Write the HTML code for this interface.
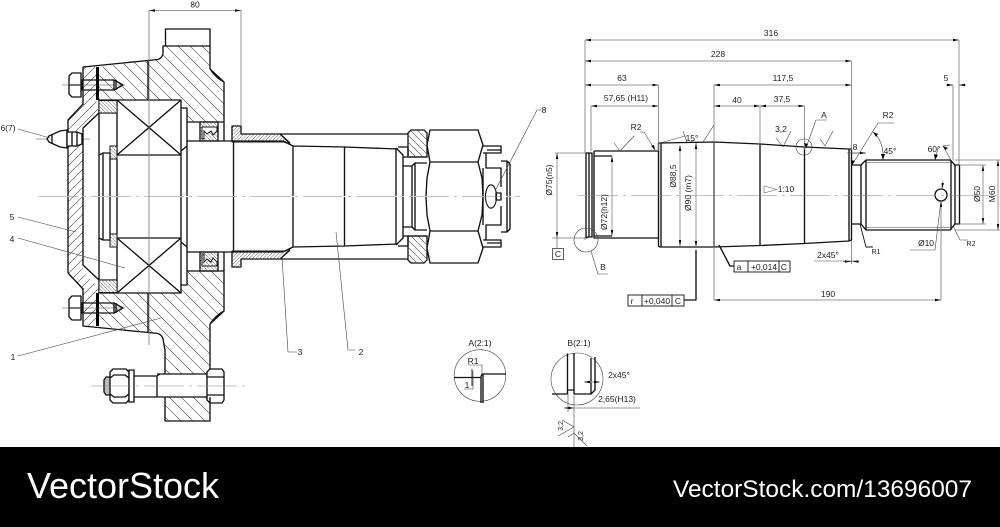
<!DOCTYPE html>
<html><head><meta charset="utf-8"><title>Engineering drawing</title>
<style>
html,body{margin:0;padding:0;background:#fff;width:1000px;height:527px;overflow:hidden}
svg{display:block}
text{font-family:"Liberation Sans",sans-serif;font-size:8.5px;fill:#222;text-anchor:middle}
.m{fill:none;stroke:#111;stroke-width:1.35;stroke-linejoin:round}
.t{fill:none;stroke:#444;stroke-width:.6}
.d{fill:none;stroke:#999;stroke-width:1;marker-start:url(#a);marker-end:url(#a)}
.h{fill:none;stroke:#777;stroke-width:.8;marker-end:url(#a)}
.e{fill:none;stroke:#777;stroke-width:.8}
.c{fill:none;stroke:#888;stroke-width:.6;stroke-dasharray:40 5 3 5}
.k{fill:none;stroke:#111;stroke-width:.9}
</style></head><body>
<svg width="1000" height="527" viewBox="0 0 1000 527" xmlns="http://www.w3.org/2000/svg">
<defs>
<marker id="a" viewBox="0 0 10 4" refX="10" refY="2" markerWidth="6" markerHeight="2.6" markerUnits="userSpaceOnUse" orient="auto-start-reverse"><path d="M0 0L10 2L0 4z" fill="#000"/></marker>
<pattern id="hA" width="12" height="12" patternUnits="userSpaceOnUse"><path d="M-3 -3L15 15M-3 9L3 15M9 -3L15 3" stroke="#444" stroke-width=".6" fill="none"/></pattern>
<pattern id="hB" width="12" height="12" patternUnits="userSpaceOnUse"><path d="M15 -3L-3 15M3 -3L-3 3M15 9L9 15" stroke="#444" stroke-width=".6" fill="none"/></pattern>
<pattern id="fA" width="3.5" height="3.5" patternUnits="userSpaceOnUse"><path d="M-1 -1L4.500 4.500M-1 2.500L1 4.500M2.500 -1L4.500 1" stroke="#444" stroke-width=".5" fill="none"/></pattern>
<pattern id="fB" width="3.5" height="3.5" patternUnits="userSpaceOnUse"><path d="M4.500 -1L-1 4.500M1 -1L-1 1M4.500 2.500L2.500 4.500" stroke="#444" stroke-width=".5" fill="none"/></pattern>
<pattern id="mA" width="7" height="7" patternUnits="userSpaceOnUse"><path d="M-1 -1L8 8M-1 6L1 8M6 -1L8 1" stroke="#444" stroke-width=".6" fill="none"/></pattern>
<pattern id="mB" width="9" height="9" patternUnits="userSpaceOnUse"><path d="M10 -1L-1 10M1 -1L-1 1M10 8L8 10" stroke="#444" stroke-width=".6" fill="none"/></pattern>

<g id="half">
 <path class="m" d="M83 105V67L148 60.500L158 59.500Q162 58 163 54"/>
 <path class="m" d="M210 69Q216 78 224 82V141M210 69L224 82"/>
 <path class="m" d="M148 60V100"/>
 <path class="m" d="M68 196V120L83 104M83 196V128L99 113"/>
 <rect x="96" y="67" width="3" height="33" fill="#000"/>
 <path class="m" d="M99 100H181V155H117V100M99 100V196M99 113H117M117 100L181 155M181 100L117 155M181 155V196"/>
 <rect x="99" y="100.500" width="18" height="12.500" fill="#fff" stroke="#111"/>
 <rect x="110" y="146" width="7" height="13" fill="#fff" stroke="#111"/>
 <path class="m" d="M99 155L103 153H110M103 153V196M110 153V196M117 159V196"/>
 <path class="m" d="M181 108H187V146L181 151M187 122H224M187 141V196M187 141H233.500V196"/>
 <rect x="200" y="122" width="18" height="19" class="m"/>
 <path d="M202 127H217V131L213 135L211 131L207 134L204 131V139H202z" fill="#fff" stroke="#111" stroke-width="1"/>
 <!-- small bolt -->
 <path class="m" d="M69 76L72 73H81V97H72L69 94zM69 85H81M82 80H114L123 85L114 90H82zM114 80V90M116 80V90" fill="#fff"/>
 <path class="t" d="M62 85H125"/>
 <!-- sleeve -->
 <path class="m" d="M241 126H232V141M241 126V134H408M232 141H283L293 146L344.500 147L398 149M280 134L290 143M293 146V196M344.500 147V196M396 148V196M396 148L403 155V196"/>
 <path class="m" d="M398 147H408V157M403 157H427M403 166H412L415 163H427M412 166V196M415 163V196"/>
 <path d="M232 126H241V134H280L290 144L283 142H232z" stroke="#111" stroke-width=".9" fill="none"/>
 <!-- washer -->
 <path d="M408 133L411 130H424L427 133V157H408z" stroke="#111" stroke-width="1.300" fill="none"/>
 <!-- nut -->
 <path class="m" d="M430 130H478L483 145L478 162H430L427 145zM430 162L427 178L426 196M478 162L482 178L483 196"/>
 <!-- castle -->
 <path class="m" d="M483 146H501V153H486V168H501V187M483 153H486M483 168V196M487 150H501M501 161H507L510 164V196M507 161V196"/>
</g>
</defs>

<rect width="1000" height="527" fill="#fff"/>

<!-- LEFT ASSEMBLY hatching -->
<polygon points="99,67 148,60.500 148,100 99,100" fill="url(#hA)"/>
<polygon points="148,60.500 158,59.500 163,54 163,46 210,46 210,69 224,82 224,122 187,122 187,108 181,108 181,100 148,100" fill="url(#hA)"/>
<polygon points="83,67 96,67 96,100 99,113 83,128" fill="url(#mB)"/>
<polygon points="68,120 83,105 83,272 99,288 99,293 96,293 96,326 83,326 83,289 68,273" fill="url(#mB)"/>
<polygon points="99,326 148,332.500 148,293 99,293" fill="url(#hA)"/>
<polygon points="148,332.500 158,333.500 163,339 165,347 165,374 210,374 210,324 224,311 224,271 187,271 187,285 181,285 181,293 148,293" fill="url(#hA)"/>
<polygon points="165,397 210,397 210,421 165,421" fill="url(#hA)"/>

<use href="#half"/>
<use href="#half" transform="matrix(1 0 0 -1 0 393)"/>

<!-- flange parts that are not symmetric -->
<path class="m" d="M163 54V46H210V69M165.500 46V29H210V46"/>
<path class="m" d="M163 339L165 350V374M210 374V324"/>
<path class="e" d="M241 10V126"/>

<!-- fine hatching of section pieces -->
<rect x="99" y="100.500" width="18" height="12.500" fill="url(#fA)"/>
<rect x="110" y="146" width="7" height="13" fill="url(#fA)"/>
<rect x="99" y="280" width="18" height="13" fill="url(#fA)"/>
<rect x="110" y="234" width="7" height="13" fill="url(#fA)"/>
<path d="M200 122H218V141H200zM202 127V139H204V131L207 134L211 131L213 135L217 131V127z" fill="url(#fA)" fill-rule="evenodd"/>
<path d="M200 252H218V271H200z" fill="url(#fA)"/>
<polygon points="232,126 241,126 241,134 280,134 290,144 283,142 232,142" fill="url(#fB)"/>
<polygon points="232,267 241,267 241,259 280,259 290,249 283,251 232,251" fill="url(#fB)"/>
<path d="M408 133L411 130H424L427 133V157H408z" fill="url(#mA)"/>
<path d="M408 260L411 263H424L427 260V236H408z" fill="url(#mA)"/>

<!-- pin, end -->
<ellipse cx="491" cy="196.500" rx="5.500" ry="11.700" fill="#fff" stroke="#111" stroke-width="1.100"/>
<rect x="496" y="193" width="5" height="7" class="m" fill="#fff"/>

<!-- lower bolt -->
<g class="m">
 <path d="M110 377H106L104 380V392L106 395H110" fill="#bbb"/>
 <path d="M110 372L113 369H126L129 372V400L126 403H113L110 400zM110 378L114 375H125L129 378M110 394L114 397H125L129 394" fill="#fff"/>
 <rect x="129" y="370" width="5" height="32" fill="#fff"/>
 <path d="M134 376H157V397H134M157 374H207M157 376V397L160 397H207M157 376L160 374"/>
 <path d="M207 372L210 369H222L224 372V400L222 403H210L207 400zM207 377H224M207 395H224" fill="#fff"/>
 <path d="M165 397V421H210V397"/>
</g>

<!-- centre lines left -->
<path class="c" d="M38 196.500H520"/>
<path class="c" d="M91 386H245"/>
<path class="e" d="M149 10V345"/>
<path class="t" d="M36 139H90"/>

<!-- nipple -->
<g class="m" stroke-width="1">
 <path d="M49 136L47 139L49 142L60 147L67 148V130L60 131z" fill="#fff"/>
 <path d="M67 132H77L82 134V144L77 146H67zM72 132V146M77 132V146" fill="#fff"/>
 <path d="M52 135V143"/>
</g>

<!-- 80 dim -->
<path class="d" d="M149 10.500H241"/>
<text x="195" y="7.500">80</text>

<!-- left labels -->
<g class="t">
 <path d="M18 129L50 138M18 217L76 232M18 238L125 268M18 356L161 318M282 257L288 352H297M336 232L348 350H355M495 191L537 110H542"/>
</g>
<text x="8" y="131">6(7)</text>
<text x="12" y="220">5</text>
<text x="12" y="242">4</text>
<text x="13" y="360">1</text>
<text x="300" y="355">3</text>
<text x="361" y="355">2</text>
<text x="544" y="113">8</text>

<!-- RIGHT SHAFT -->
<path class="m" stroke-width="1.300" d="M586 238V153Q586 153 588 153H592V237H588Q586 238 586 238M589 153V237M592 153V156M594 151H658.500V238H594V151M594 156H612M594 236H612"/>
<path class="m" stroke-width="1.300" d="M658.500 151V143H660L714 142L760 144L804.500 147L849 149H851.500V240L849 241L804.500 243.500L760 245.500L714 247H660L658.500 246V238M661 143V247M714 142V247M760 144V245.500M804.500 147V243.500"/>
<path class="m" stroke-width="1.400" d="M849 149V241M851.500 165H861V224H851.500M861 165L866 160H950L955 165V224L950 230H866L861 224M866 160V230M951 160V230M954 165H959.500V224H954"/>
<path class="t" d="M866 162.500H950M866 227.500H950"/>
<circle cx="941" cy="195" r="6" fill="#fff" stroke="#111" stroke-width="1.300"/>
<path class="c" d="M578 195.500H1000"/>

<!-- extensions -->
<path class="e" d="M585 40V153M585 237V240M591 106V151M658.500 85V151M714 85V300M760 106V145M804.500 106V150M851.500 61V150M953 85V160M959 40V165"/>
<path class="e" d="M555 153H586M552 238H586M959 165H986M955 160H1000M955 230H1000M959 224H986"/>
<path class="e" stroke-width="1" d="M851.500 241V264"/>

<!-- dimensions -->
<path class="d" d="M585 40H959"/><text x="771" y="36">316</text>
<path class="d" d="M585 61H851.500"/><text x="718" y="57">228</text>
<path class="d" d="M585 85H658.500"/><text x="622" y="81">63</text>
<path class="d" d="M714 85H851.500"/><text x="783" y="81">117,5</text>
<path class="h" d="M946 85H953"/><path class="h" d="M966 85H959"/><text x="946" y="81">5</text>
<path class="d" d="M591 106H658.500"/><text x="626" y="101">57,65 (H11)</text>
<path class="d" d="M714 106H760"/><text x="737" y="103">40</text>
<path class="d" d="M760 106H804.500"/><text x="782" y="102">37,5</text>
<path class="d" d="M557 153V238"/>
<path class="d" d="M612 156V236"/>
<path class="d" d="M680 145V246"/>
<path class="d" d="M696 143V247"/>
<path class="d" d="M983 165V224"/>
<path class="d" d="M998 160V230"/>
<path class="d" d="M714 300H941"/><text x="828" y="297">190</text>
<path class="e" d="M941 200V300"/>
<path class="h" d="M843 261.500H851"/><path class="h" d="M859 261.500H852.500"/>
<path class="h" d="M851.500 153H866"/>
<path class="h" d="M941 207V201"/><path class="h" d="M943 181L942 189"/>
<text transform="translate(552 180) rotate(-90)">Ø75(n5)</text>
<text transform="translate(607 212) rotate(-90)">Ø72(h12)</text>
<text transform="translate(676 176) rotate(-90)">Ø88,5</text>
<text transform="translate(691 193) rotate(-90)">Ø90 (m7)</text>
<text transform="translate(980 194) rotate(-90)">Ø50</text>
<text transform="translate(995 194) rotate(-90)">M60</text>

<!-- leaders & notes -->
<g class="t">
 <path d="M941 200L935 250H910M953 226L960 240H968M852 165L878 123H894M847 153H866M814 261H858M806 148L816 120H827M783 147L791 131M783 147L776 138M825 146L833 131M825 146L820 139M620 151L634 136M620 151L614 143M655 150L644 132H640M660 143L685 136M703 142L714 125M591 251L598 274H608"/>
 <path d="M873 132Q884 141 883 160M935 160L938 148M951 160L943 146L950 145"/>
 <circle cx="804" cy="147" r="8"/>
 <circle cx="586" cy="240" r="12"/>
 <path d="M683 131L687 142M690 142L695 140"/>
</g>
<path class="k" stroke-width="1.200" d="M860 224L866 247H873"/>
<path d="M806 148L804 143L808 144zM852 165L851 160L855 161zM655 150L651 146L654 145zM873 132L878 134L876 137zM883 160L881 154L885 154zM935 160L934 154L938 155zM943 146L948 148L945 150z" fill="#000"/>
<text x="636" y="130">R2</text>
<text x="692" y="141">15°</text>
<text x="781" y="132">3,2</text>
<text x="824" y="118">A</text>
<text x="888" y="118">R2</text>
<text x="855" y="150">8</text>
<text x="890" y="154">45°</text>
<text x="934" y="152">60°</text>
<text x="926" y="246">Ø10</text>
<text x="828" y="258">2x45°</text>
<text x="876" y="254" style="font-size:7px">R1</text>
<text x="971" y="246" style="font-size:7px">R2</text>
<text x="603" y="270">B</text>
<path d="M764 186L777 189.500L764 193z" fill="#fff" stroke="#666" stroke-width=".6"/>
<text x="786" y="192">1:10</text>

<!-- datum -->
<rect x="552.500" y="248.500" width="11" height="11" fill="#fff" stroke="#222" stroke-width=".7"/>
<text x="558" y="257">C</text>
<path d="M557 238V248" class="e"/>

<!-- tolerance r -->
<path class="m" d="M684 300H696V250"/>
<rect x="628" y="295" width="56" height="11" fill="#fff" stroke="#111" stroke-width=".9"/>
<path class="k" d="M642 295V306M672 295V306"/>
<text x="632" y="304">r</text>
<text x="657" y="304">+0,040</text>
<text x="678" y="304">C</text>
<!-- tolerance a -->
<path class="m" d="M719 245L730 266H734"/>
<rect x="734" y="261" width="56" height="11" fill="#fff" stroke="#111" stroke-width=".9"/>
<path class="k" d="M748 261V272M779 261V272"/>
<text x="739" y="270">a</text>
<text x="764" y="270">+0,014</text>
<text x="784" y="270">C</text>

<!-- DETAIL A -->
<text x="480" y="346">A(2:1)</text>
<circle cx="480" cy="375.500" r="25.800" class="t"/>
<path class="m" d="M454 377.500H481V403M483 374H506M483 374V403M481 377Q481 375 483 374"/>
<path class="t" d="M468 365H482V374M464 389H473V371"/>
<path class="k" d="M472 369V386"/>
<text x="473" y="364">R1</text>
<text x="467" y="388">1</text>

<!-- DETAIL B -->
<text x="579" y="346">B(2:1)</text>
<circle cx="577" cy="379" r="26" class="t"/>
<path class="m" d="M567.500 353.500V394H552M574 353V394M567.500 390H574M574 394H591L595 390V357M591 358V394"/>
<path class="d" d="M564 408H574"/><path class="e" d="M574 408H640M568 394V412M574 394V447"/>
<path class="d" stroke="#111" d="M584 382H600"/>
<text x="619" y="378">2x45°</text>
<text x="617" y="402">2,65(H13)</text>
<path class="t" d="M562 420L574 427L558 436M568 437L574 433L587 446"/>
<text transform="translate(563 426) rotate(-90)" style="font-size:7px">3,2</text>
<text transform="translate(583 436) rotate(-90)" style="font-size:7px">3,2</text>

<!-- BANNER -->
<rect x="0" y="447" width="1000" height="80" fill="#000"/>
<text x="27" y="498" textLength="192" lengthAdjust="spacingAndGlyphs" style="font-size:36px;fill:#fff;text-anchor:start">VectorStock</text>
<text x="673" y="497" textLength="299" lengthAdjust="spacingAndGlyphs" style="font-size:24px;fill:#fff;text-anchor:start">VectorStock.com/13696007</text>
</svg>
</body></html>
